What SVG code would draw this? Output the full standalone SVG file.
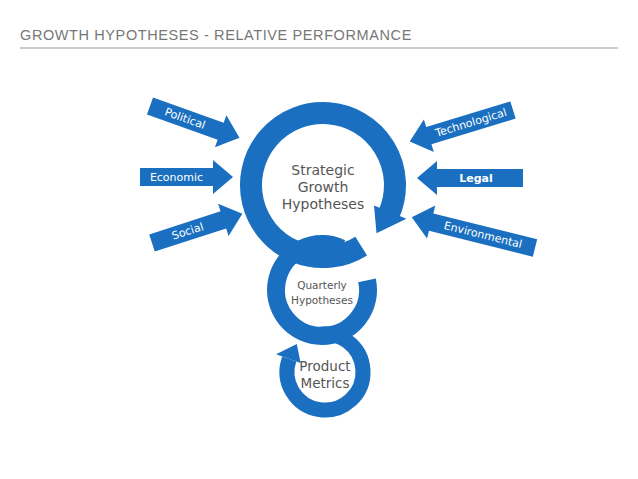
<svg xmlns="http://www.w3.org/2000/svg" width="638" height="479" viewBox="0 0 638 479">
<style>
.ring{fill:none;stroke:#1a6fc0}
.blue{fill:#1a6fc0}
.lbl{font-family:"DejaVu Sans",sans-serif;font-size:11px;fill:#fff;text-anchor:middle;dominant-baseline:central}
.ctr{font-family:"DejaVu Sans",sans-serif;fill:#555;text-anchor:middle}
</style>
<rect width="638" height="479" fill="#fff"/>
<text x="20" y="40" font-family="Liberation Sans,Arial,sans-serif" font-size="14.5" fill="#777" letter-spacing="0.6">GROWTH HYPOTHESES - RELATIVE PERFORMANCE</text>
<line x1="20" y1="48" x2="618" y2="48" stroke="#bbb" stroke-width="1.5"/>
<g id="connectors">
<g id="product-cycle">
<path class="ring" stroke-width="15" d="M315.2,335.3 A38,38 0 1 1 289.3,359"/>
<polygon class="blue" points="300.6,363.1 276.1,354.2 296.8,344"/>
</g>
<g id="quarterly-cycle">
<path class="ring" stroke-width="18" d="M367,280.4 A46,46 0 1 1 341.4,248.3"/>
</g>
<g id="strategic-cycle">
<path class="ring" stroke-width="22" d="M361.2,246.1 A72,72 0 1 1 389.3,213.1"/>
<polygon class="blue" points="374,205.6 406.4,218.7 376.5,233.2"/>
</g>
</g>
<g id="political"><polygon class="blue" transform="translate(150,106) rotate(19.6)" points="0,-9 75,-9 75,-17 95,0 75,17 75,9 0,9"/><text class="lbl" transform="translate(185,118.6) rotate(19.6)">Political</text></g>
<g id="economic"><polygon class="blue" transform="translate(140,177)" points="0,-9 73,-9 73,-17 93,0 73,17 73,9 0,9"/><text class="lbl" x="176.5" y="177">Economic</text></g>
<g id="social"><polygon class="blue" transform="translate(152,243) rotate(-18)" points="0,-9 75,-9 75,-17 95,0 75,17 75,9 0,9"/><text class="lbl" transform="translate(187.7,231.4) rotate(-18)">Social</text></g>
<g id="technological"><polygon class="blue" transform="translate(513,110) rotate(163)" points="0,-9 88,-9 88,-17 108,0 88,17 88,9 0,9"/><text class="lbl" transform="translate(471,122.8) rotate(-17)">Technological</text></g>
<g id="legal"><polygon class="blue" transform="translate(523,178) rotate(180)" points="0,-9 86,-9 86,-17 106,0 86,17 86,9 0,9"/><text class="lbl" x="476" y="178" font-weight="bold">Legal</text></g>
<g id="environmental"><polygon class="blue" transform="translate(535,248) rotate(194)" points="0,-9 107,-9 107,-17 127,0 107,17 107,9 0,9"/><text class="lbl" transform="translate(483,235) rotate(14)">Environmental</text></g>
<g id="strategic"><text class="ctr" font-size="14"><tspan x="323" y="175">Strategic</tspan><tspan x="323" y="192">Growth</tspan><tspan x="323" y="209">Hypotheses</tspan></text></g>
<g id="quarterly"><text class="ctr" font-size="10.5"><tspan x="322" y="289">Quarterly</tspan><tspan x="322" y="304">Hypotheses</tspan></text></g>
<g id="product"><text class="ctr" font-size="13.5"><tspan x="325" y="371">Product</tspan><tspan x="325" y="388">Metrics</tspan></text></g>
</svg>
